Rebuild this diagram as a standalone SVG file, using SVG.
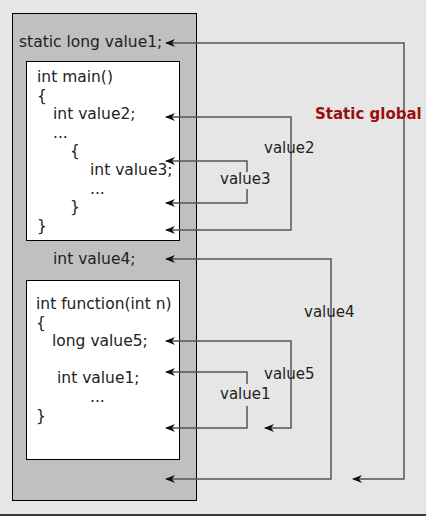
<svg xmlns="http://www.w3.org/2000/svg" width="426" height="516" viewBox="0 0 426 516">
<style>
.code{font-family:"DejaVu Sans",Verdana,sans-serif;font-size:15.5px;fill:#222}
.lbl{font-family:"DejaVu Sans",Verdana,sans-serif;font-size:15px;fill:#222}
.title{font-family:"DejaVu Sans",Verdana,sans-serif;font-size:15px;font-weight:bold;fill:#9a0f0f}
.conn{fill:none;stroke:#555;stroke-width:1.5;marker-start:url(#ah);marker-end:url(#ah)}
</style>
<defs>
<marker id="ah" viewBox="0 0 10 8" refX="9" refY="4" markerWidth="10" markerHeight="8" markerUnits="userSpaceOnUse" orient="auto-start-reverse">
<path d="M10,4 L0,0 L3,4 L0,8 z" fill="#111"/>
</marker>
</defs>
<rect x="0" y="0" width="426" height="516" fill="#e6e6e6"/>
<line x1="0" y1="515" x2="426" y2="515" stroke="#000" stroke-width="1.5"/>
<g id="panel">
<rect x="12.5" y="13.5" width="184" height="487" fill="#c0c0c0" stroke="#000" stroke-width="1"/>
<text class="code" x="19" y="47">static long value1;</text>
<text class="code" x="53" y="264">int value4;</text>
</g>
<g id="main">
<rect x="26.5" y="61.5" width="153" height="179" fill="#fff" stroke="#000" stroke-width="1"/>
<text class="code" x="37" y="82">int main()</text>
<text class="code" x="37" y="100.6">{</text>
<text class="code" x="53" y="119.2">int value2;</text>
<text class="code" x="53" y="137.8">...</text>
<text class="code" x="70" y="156.4">{</text>
<text class="code" x="90" y="175">int value3;</text>
<text class="code" x="90" y="193.6">...</text>
<text class="code" x="70" y="212.2">}</text>
<text class="code" x="37" y="230.8">}</text>
</g>
<g id="function">
<rect x="26.5" y="280.5" width="153" height="179" fill="#fff" stroke="#000" stroke-width="1"/>
<text class="code" x="36" y="309">int function(int n)</text>
<text class="code" x="36" y="327.6">{</text>
<text class="code" x="52" y="346.2">long value5;</text>
<text class="code" x="57" y="383.4">int value1;</text>
<text class="code" x="90" y="402">...</text>
<text class="code" x="36" y="420.6">}</text>
</g>
<g id="connectors">
<path class="conn" d="M166,43 H404 V479 H353"/>
<path class="conn" d="M166,117 H291 V230 H166"/>
<path class="conn" d="M166,161 H247 V172 M247,189 V203 H166"/>
<path class="conn" d="M166,259 H331 V479 H166"/>
<path class="conn" d="M166,341 H291 V428 H265"/>
<path class="conn" d="M166,372 H247 V384 M247,406 V428 H166"/>
</g>
<g id="labels">
<text class="title" x="315" y="119">Static global</text>
<text class="lbl" x="264" y="153">value2</text>
<text class="lbl" x="220" y="184">value3</text>
<text class="lbl" x="304" y="317">value4</text>
<text class="lbl" x="264" y="379">value5</text>
<text class="lbl" x="220" y="399">value1</text>
</g>
</svg>
